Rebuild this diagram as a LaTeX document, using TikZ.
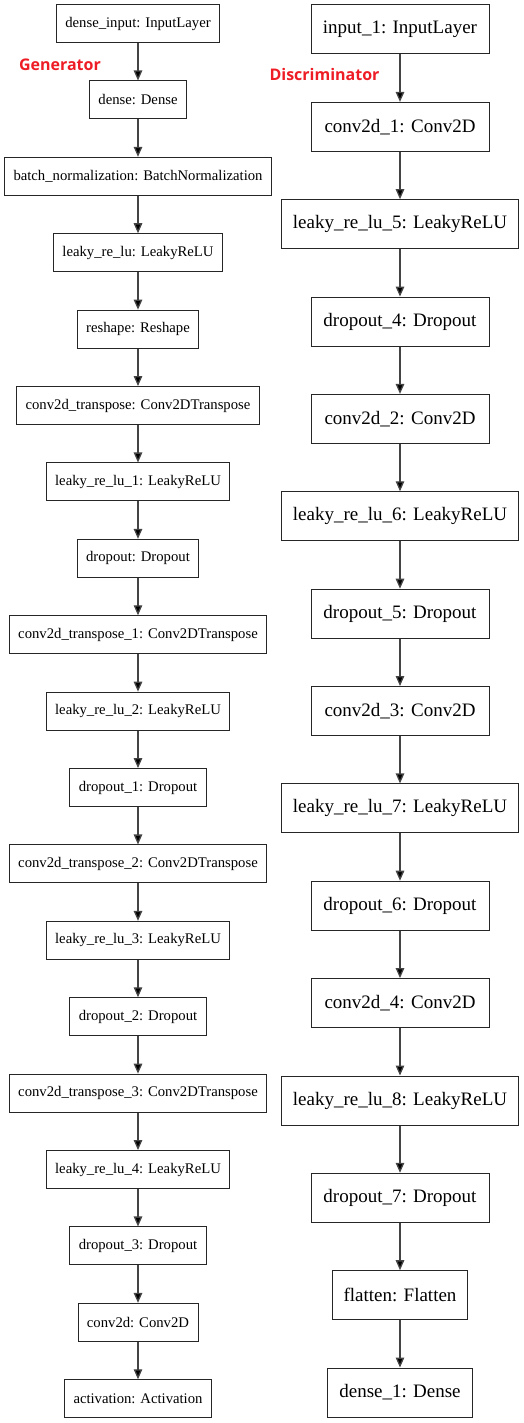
\documentclass[tikz,border=0pt]{standalone}
\usepackage{fontspec}
\setmainfont{Liberation Serif}
\newfontfamily\labelfont{Open Sans}
\usepackage{tikz}
\usetikzlibrary{arrows.meta}
\usetikzlibrary{positioning}
\usepackage{xcolor}
\definecolor{netred}{HTML}{EE1C25}
\definecolor{edgegray}{HTML}{444444}

\tikzset{
  genbox/.style={draw=black!85, line width=0.9pt, rectangle, minimum height=38pt,
    inner xsep=9pt, font=\fontsize{14.7}{17}\selectfont},
  discbox/.style={draw=black!85, line width=1pt, rectangle, minimum height=49pt,
    minimum width=178pt, inner xsep=11.5pt, font=\fontsize{19}{22}\selectfont},
  flow/.style={draw=edgegray, line width=1.3pt, -{Triangle[length=10pt,width=8.5pt,fill=black]}},
  tag/.style={text=netred, font=\labelfont\bfseries\fontsize{16}{18}\selectfont}
}

\begin{document}
\begin{tikzpicture}[x=1pt, y=-1pt]
       \useasboundingbox (0,0) rectangle (524,1423);

       % generator
       \node[genbox] (g0)  at (138,   23.5) {dense\_input: InputLayer};
       \node[genbox] (g1)  at (138,   99.9) {dense: Dense};
       \node[genbox] (g2)  at (138,  176.3) {batch\_normalization: BatchNormalization};
       \node[genbox] (g3)  at (138,  252.7) {leaky\_re\_lu: LeakyReLU};
       \node[genbox] (g4)  at (138,  329.1) {reshape: Reshape};
       \node[genbox] (g5)  at (138,  405.5) {conv2d\_transpose: Conv2DTranspose};
       \node[genbox] (g6)  at (138,  481.9) {leaky\_re\_lu\_1: LeakyReLU};
       \node[genbox] (g7)  at (138,  558.3) {dropout: Dropout};
       \node[genbox] (g8)  at (138,  634.7) {conv2d\_transpose\_1: Conv2DTranspose};
       \node[genbox] (g9)  at (138,  711.1) {leaky\_re\_lu\_2: LeakyReLU};
       \node[genbox] (g10) at (138,  787.5) {dropout\_1: Dropout};
       \node[genbox] (g11) at (138,  863.9) {conv2d\_transpose\_2: Conv2DTranspose};
       \node[genbox] (g12) at (138,  940.3) {leaky\_re\_lu\_3: LeakyReLU};
       \node[genbox] (g13) at (138, 1016.7) {dropout\_2: Dropout};
       \node[genbox] (g14) at (138, 1093.1) {conv2d\_transpose\_3: Conv2DTranspose};
       \node[genbox] (g15) at (138, 1169.5) {leaky\_re\_lu\_4: LeakyReLU};
       \node[genbox] (g16) at (138, 1245.9) {dropout\_3: Dropout};
       \node[genbox] (g17) at (138, 1322.3) {conv2d: Conv2D};
       \node[genbox] (g18) at (138, 1398.7) {activation: Activation};

       \draw[flow] (g0)  -- (g1);
       \draw[flow] (g1)  -- (g2);
       \draw[flow] (g2)  -- (g3);
       \draw[flow] (g3)  -- (g4);
       \draw[flow] (g4)  -- (g5);
       \draw[flow] (g5)  -- (g6);
       \draw[flow] (g6)  -- (g7);
       \draw[flow] (g7)  -- (g8);
       \draw[flow] (g8)  -- (g9);
       \draw[flow] (g9)  -- (g10);
       \draw[flow] (g10) -- (g11);
       \draw[flow] (g11) -- (g12);
       \draw[flow] (g12) -- (g13);
       \draw[flow] (g13) -- (g14);
       \draw[flow] (g14) -- (g15);
       \draw[flow] (g15) -- (g16);
       \draw[flow] (g16) -- (g17);
       \draw[flow] (g17) -- (g18);

       % discriminator
       \node[discbox] (d0)  at (400,   29.5) {input\_1: InputLayer};
       \node[discbox] (d1)  at (400,  126.9) {conv2d\_1: Conv2D};
       \node[discbox] (d2)  at (400,  224.2) {leaky\_re\_lu\_5: LeakyReLU};
       \node[discbox] (d3)  at (400,  321.6) {dropout\_4: Dropout};
       \node[discbox] (d4)  at (400,  418.9) {conv2d\_2: Conv2D};
       \node[discbox] (d5)  at (400,  516.3) {leaky\_re\_lu\_6: LeakyReLU};
       \node[discbox] (d6)  at (400,  613.7) {dropout\_5: Dropout};
       \node[discbox] (d7)  at (400,  711.0) {conv2d\_3: Conv2D};
       \node[discbox] (d8)  at (400,  808.4) {leaky\_re\_lu\_7: LeakyReLU};
       \node[discbox] (d9)  at (400,  905.7) {dropout\_6: Dropout};
       \node[discbox] (d10) at (400, 1003.1) {conv2d\_4: Conv2D};
       \node[discbox] (d11) at (400, 1100.5) {leaky\_re\_lu\_8: LeakyReLU};
       \node[discbox] (d12) at (400, 1197.8) {dropout\_7: Dropout};
       \node[discbox, minimum width=0pt] (d13) at (400, 1295.2) {flatten: Flatten};
       \node[discbox, minimum width=0pt] (d14) at (400, 1392.5) {dense\_1: Dense};

       \draw[flow] (d0)  -- (d1);
       \draw[flow] (d1)  -- (d2);
       \draw[flow] (d2)  -- (d3);
       \draw[flow] (d3)  -- (d4);
       \draw[flow] (d4)  -- (d5);
       \draw[flow] (d5)  -- (d6);
       \draw[flow] (d6)  -- (d7);
       \draw[flow] (d7)  -- (d8);
       \draw[flow] (d8)  -- (d9);
       \draw[flow] (d9)  -- (d10);
       \draw[flow] (d10) -- (d11);
       \draw[flow] (d11) -- (d12);
       \draw[flow] (d12) -- (d13);
       \draw[flow] (d13) -- (d14);

       \node[tag] (gentag)  at (60, 65)    {Generator};
       \node[tag] (disctag) at (324.5, 75) {Discriminator};
    \end{tikzpicture}
\end{document}
